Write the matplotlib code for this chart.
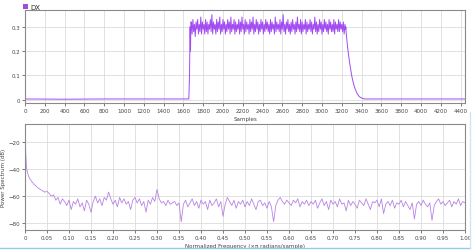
import numpy as np
import matplotlib
matplotlib.use("Agg")
import matplotlib.pyplot as plt
from matplotlib.patches import Patch
from matplotlib.lines import Line2D

# ---------------- data: top panel (signal DX vs samples) ----------------
series_name = "DX"
base_x = [0, 400, 800, 1200, 1655]
base_y = [0.003, 0.002, 0.003, 0.003, 0.003]
rise_x = [1662, 1668, 1672, 1676]
rise_y = [0.10, 0.30, 0.20, 0.32]
plateau_start = 1680
plateau_step = 8
plateau_y = [
    0.32, 0.27, 0.33, 0.28, 0.31, 0.26, 0.32, 0.29, 0.33, 0.27,
    0.31, 0.28, 0.34, 0.27, 0.32, 0.29, 0.31, 0.27, 0.33, 0.28,
    0.32, 0.27, 0.31, 0.29, 0.33, 0.28, 0.35, 0.27, 0.32, 0.29,
    0.31, 0.27, 0.33, 0.28, 0.32, 0.29, 0.34, 0.27, 0.31, 0.28,
    0.33, 0.29, 0.32, 0.27, 0.31, 0.28, 0.33, 0.29, 0.32, 0.27,
    0.34, 0.28, 0.31, 0.29, 0.33, 0.27, 0.32, 0.28, 0.31, 0.29,
    0.33, 0.27, 0.32, 0.28, 0.34, 0.29, 0.31, 0.27, 0.33, 0.28,
    0.32, 0.29, 0.31, 0.27, 0.33, 0.28, 0.32, 0.29, 0.34, 0.27,
    0.31, 0.28, 0.33, 0.29, 0.32, 0.27, 0.31, 0.28, 0.33, 0.29,
    0.32, 0.27, 0.31, 0.28, 0.33, 0.29, 0.32, 0.28, 0.31, 0.27,
    0.33, 0.28, 0.32, 0.29, 0.31, 0.27, 0.34, 0.28, 0.32, 0.29,
    0.31, 0.28, 0.33, 0.27, 0.32, 0.29, 0.35, 0.28, 0.31, 0.27,
    0.32, 0.29, 0.33, 0.28, 0.31, 0.27, 0.32, 0.28, 0.33, 0.29,
    0.31, 0.27, 0.32, 0.28, 0.34, 0.29, 0.31, 0.28, 0.33, 0.27,
    0.32, 0.28, 0.31, 0.29, 0.33, 0.27, 0.32, 0.28, 0.31, 0.29,
    0.33, 0.28, 0.32, 0.27, 0.31, 0.29, 0.34, 0.28, 0.32, 0.27,
    0.31, 0.28, 0.33, 0.29, 0.32, 0.27, 0.31, 0.28, 0.33, 0.29,
    0.32, 0.28, 0.31, 0.27, 0.33, 0.29, 0.32, 0.28, 0.31, 0.28,
    0.33, 0.27, 0.32, 0.29, 0.31, 0.28, 0.33, 0.28, 0.32, 0.29,
    0.31, 0.28, 0.32, 0.27, 0.31, 0.29,
]
decay_x = [3240, 3248, 3258, 3270, 3284, 3300, 3316, 3334, 3352, 3370, 3390, 3410, 3430, 3800, 4200, 4440]
decay_y = [0.30, 0.26, 0.22, 0.18, 0.14, 0.10, 0.07, 0.045, 0.028, 0.016, 0.009, 0.005, 0.003, 0.003, 0.003, 0.003]

# ---------------- data: bottom panel (power spectrum) ----------------
head_f = [0.000, 0.001, 0.002, 0.003, 0.004, 0.006, 0.008, 0.010, 0.015, 0.020,
          0.025, 0.030, 0.035, 0.040, 0.045, 0.050]
head_db = [-12, -22, -30, -36, -40, -43, -45, -46.5, -49, -51,
           -52.5, -54, -55, -56, -57, -56.5]
tail_f0 = 0.055
tail_step = 0.005
tail_db = [
    -58, -60, -59, -63, -61, -66, -62, -64, -67, -63,
    -70, -64, -66, -62, -68, -65, -71, -63, -66, -72,
    -64, -60, -65, -62, -67, -61, -63, -57, -62, -66,
    -63, -68, -61, -65, -62, -66, -64, -70, -63, -61,
    -65, -62, -67, -64, -72, -63, -66, -61, -64, -55,
    -62, -65, -64, -67, -63, -66, -65, -64, -67, -65,
    -79, -66, -63, -68, -65, -62, -67, -64, -69, -63,
    -66, -64, -70, -63, -67, -65, -62, -68, -64, -75,
    -66, -61, -64, -67, -63, -69, -64, -66, -63, -68,
    -64, -67, -62, -66, -70, -64, -63, -67, -65, -69,
    -64, -68, -79, -67, -63, -61, -64, -66, -63, -65,
    -67, -63, -65, -62, -68, -64, -66, -63, -67, -64,
    -66, -63, -69, -65, -62, -67, -64, -70, -63, -66,
    -64, -68, -62, -66, -65, -71, -63, -67, -64, -66,
    -69, -63, -65, -67, -62, -66, -70, -64, -65, -63,
    -68, -62, -73, -66, -64, -67, -63, -69, -65, -66,
    -63, -68, -64, -67, -70, -65, -77, -66, -64, -67,
    -63, -66, -68, -65, -78, -67, -64, -62, -66, -64,
    -67, -65, -63, -68, -64, -66, -62, -67, -64, -65,
]

top_xticks = list(range(0, 4401, 200))
top_yticks = [0, 0.1, 0.2, 0.3]
bot_xticks = [round(0.05 * i, 2) for i in range(21)]
bot_yticks = [-20, -40, -60, -80]

# ---------------- assemble ----------------
plateau_x = plateau_start + plateau_step * np.arange(len(plateau_y))
sx = np.concatenate([base_x, rise_x, plateau_x, decay_x])
sy = np.concatenate([base_y, rise_y, plateau_y, decay_y])
tail_f = tail_f0 + tail_step * np.arange(len(tail_db))
fx = np.concatenate([head_f, tail_f])
fy = np.concatenate([head_db, tail_db])

W, H = 474, 253
fig = plt.figure(figsize=(W / 100, H / 100), dpi=100)
fig.patch.set_facecolor("white")

def fx_(px):
    return px / W

def fy_(py):
    return 1 - py / H

ax1 = fig.add_axes([fx_(25), fy_(104), fx_(465) - fx_(25), fy_(11) - fy_(104)])
ax2 = fig.add_axes([fx_(25), fy_(231), fx_(465) - fx_(25), fy_(125) - fy_(231)])

top_color = "#a24bf2"
bot_color = "#b684e6"
grid_color = "#dcdcdc"
spine_color = "#8a8a8a"
tick_color = "#444444"
fs = 4

ax1.plot(sx, sy, color=top_color, lw=0.7)
ax1.set_xlim(0, 4445)
ax1.set_ylim(-0.0136, 0.369)
ax1.set_xticks(top_xticks)
ax1.set_xticklabels([str(t) for t in top_xticks])
ax1.set_yticks(top_yticks)
ax1.set_yticklabels(["0", "0.1", "0.2", "0.3"])
ax1.set_xlabel("Samples", fontsize=fs, color=tick_color, labelpad=2)

ax2.plot(fx, fy, color=bot_color, lw=0.6)
ax2.set_xlim(0, 1.0)
ax2.set_ylim(-85.2, -6.3)
ax2.set_xticks(bot_xticks)
ax2.set_xticklabels(["0"] + ["%.2f" % t for t in bot_xticks[1:]])
ax2.set_yticks(bot_yticks)
ax2.set_xlabel("Normalized Frequency (\u00d7\u03c0 radians/sample)", fontsize=fs, color=tick_color, labelpad=2)
ax2.set_ylabel("Power Spectrum (dB)", fontsize=fs, color=tick_color, labelpad=2)

for ax in (ax1, ax2):
    ax.grid(True, color=grid_color, lw=0.6)
    ax.set_axisbelow(True)
    for s in ax.spines.values():
        s.set_color(spine_color)
        s.set_linewidth(0.8)
    ax.tick_params(labelsize=fs, colors=tick_color, length=2, width=0.5, pad=1.5)

leg = ax1.legend(handles=[Patch(facecolor="#9b4fd8", edgecolor="none", label=series_name)],
                 loc="lower left", bbox_to_anchor=(-0.005, 0.99), frameon=False,
                 fontsize=5, handlelength=0.7, handleheight=0.7, handletextpad=0.3,
                 borderpad=0.1, borderaxespad=0.0)
for t in leg.get_texts():
    t.set_color("#333333")

# light blue frame at bottom/right
fig.add_artist(Line2D([0, fx_(470)], [fy_(248.5), fy_(248.5)], color="#8fcdee", lw=1.0))
fig.add_artist(Line2D([fx_(470), fx_(470)], [fy_(248.5), fy_(113)], color="#cde6f3", lw=1.0))

fig.savefig("out.png", dpi=100, facecolor="white")
